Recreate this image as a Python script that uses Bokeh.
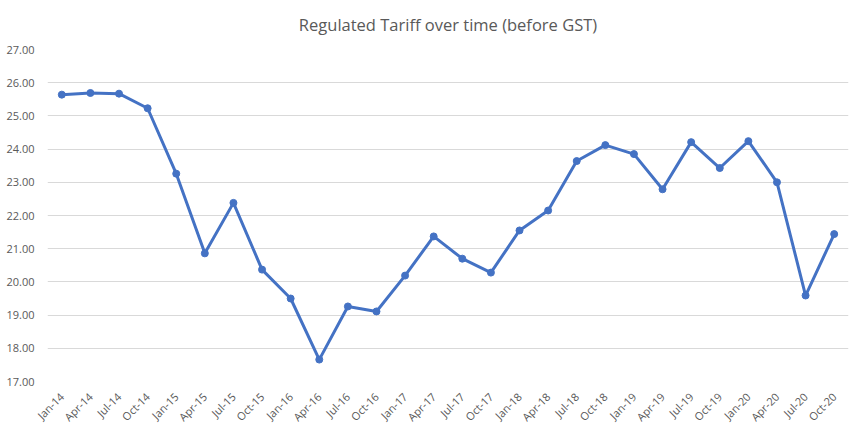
from bokeh.plotting import figure
from bokeh.models import FixedTicker, Range1d, NumeralTickFormatter
from bokeh.embed import file_html
from bokeh.resources import INLINE
import math

quarters = ["Jan-14", "Apr-14", "Jul-14", "Oct-14",
            "Jan-15", "Apr-15", "Jul-15", "Oct-15",
            "Jan-16", "Apr-16", "Jul-16", "Oct-16",
            "Jan-17", "Apr-17", "Jul-17", "Oct-17",
            "Jan-18", "Apr-18", "Jul-18", "Oct-18",
            "Jan-19", "Apr-19", "Jul-19", "Oct-19",
            "Jan-20", "Apr-20", "Jul-20", "Oct-20"]
tariff = [25.64, 25.69, 25.67, 25.23,
          23.26, 20.86, 22.38, 20.37,
          19.50, 17.66, 19.26, 19.11,
          20.19, 21.37, 20.70, 20.28,
          21.55, 22.15, 23.64, 24.12,
          23.85, 22.79, 24.21, 23.43,
          24.24, 23.00, 19.59, 21.44]
y_ticks = [17, 18, 19, 20, 21, 22, 23, 24, 25, 26, 27]

FONT = "Open Sans"
GREY = "#595959"
BLUE = "#4472C4"

xs = list(range(len(quarters)))

p = figure(width=864, height=432, output_backend="svg", toolbar_location=None,
           x_range=Range1d(-0.5, len(quarters) - 0.5), y_range=Range1d(17, 27),
           min_border_left=47, min_border_right=16, min_border_bottom=51, min_border_top=49)

p.title.text = "Regulated Tariff over time (before GST)"
p.title.align = "center"
p.title.vertical_align = "top"
p.title.text_font = FONT
p.title.text_font_size = "16.5px"
p.title.text_font_style = "normal"
p.title.text_color = GREY
p.title.offset = 0
p.title.standoff = 24

p.outline_line_color = None
p.border_fill_color = "white"
p.background_fill_color = "white"

p.line(xs, tariff, line_color=BLUE, line_width=3)
p.scatter(xs, tariff, size=7, fill_color=BLUE, line_color=BLUE)

p.xgrid.grid_line_color = None
p.ygrid.grid_line_color = "#d9d9d9"
p.ygrid.grid_line_width = 1

p.yaxis.ticker = FixedTicker(ticks=y_ticks)
p.yaxis.formatter = NumeralTickFormatter(format="0.00")
p.xaxis.ticker = FixedTicker(ticks=xs)
p.xaxis.major_label_overrides = {i: q for i, q in enumerate(quarters)}
p.xaxis.major_label_orientation = math.pi / 4

for ax in (p.xaxis, p.yaxis):
    ax.axis_line_color = None
    ax.major_tick_line_color = None
    ax.minor_tick_line_color = None
    ax.major_label_text_font = FONT
    ax.major_label_text_font_size = "11px"
    ax.major_label_text_color = GREY
    ax.major_label_standoff = 7

open("out.html", "w").write(file_html(p, INLINE))
